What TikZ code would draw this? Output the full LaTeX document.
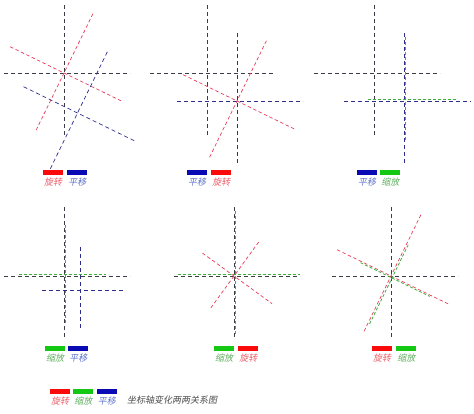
\documentclass[tikz,border=0pt]{standalone}
\usepackage{fontspec}
\newfontfamily\cjk[FakeSlant=0.2]{Noto Sans CJK SC}
\usetikzlibrary{positioning}
\definecolor{axisgray}{RGB}{60,60,70}
\definecolor{rotred}{RGB}{230,60,90}
\definecolor{movblue}{RGB}{45,45,140}
\definecolor{sclgreen}{RGB}{60,175,60}
\definecolor{barred}{RGB}{250,10,10}
\definecolor{barblue}{RGB}{10,10,180}
\definecolor{bargreen}{RGB}{20,200,20}
\definecolor{rotlabel}{RGB}{235,95,105}
\definecolor{movlabel}{RGB}{95,115,205}
\definecolor{scllabel}{RGB}{95,175,95}

\begin{document}
\begin{tikzpicture}[x=1pt, y=-1pt,
            axis base/.style={draw=axisgray, line width=0.7pt, dash pattern=on 4pt off 3pt},
            axis rot/.style={draw=rotred, line width=0.7pt, dash pattern=on 3.5pt off 2.5pt},
            axis mov/.style={draw=movblue, line width=0.7pt, dash pattern=on 4pt off 3pt},
            axis scl/.style={draw=sclgreen, line width=0.8pt, dash pattern=on 3pt off 2pt},
            legend bar/.style={minimum width=20pt, minimum height=5pt, inner sep=0pt},
            legend text/.style={font=\cjk\fontsize{9}{9}\selectfont, inner sep=0pt}]
            \useasboundingbox (0,0) rectangle (474,413);

            \coordinate (O1) at (64,73);
            \coordinate (T1) at (77.5,113);
            \coordinate (O2) at (207,73);
            \coordinate (T2) at (237,101);
            \coordinate (O3) at (374,73);
            \coordinate (T3) at (404,101);
            \coordinate (S3) at (405.5,99.5);
            \coordinate (O4) at (64,276);
            \coordinate (S4) at (65.5,274.5);
            \coordinate (T4) at (80,290);
            \coordinate (O5) at (234,276);
            \coordinate (S5) at (235.5,274.5);
            \coordinate (O6) at (391,276);
            \coordinate (S6) at (392,278);

            % base axes
            \draw[axis base] ([xshift=-60pt] O1) -- ([xshift=66pt] O1);
            \draw[axis base] ([yshift=68pt] O1) -- ([yshift=-64pt] O1);
            \draw[axis base] ([xshift=-57pt] O2) -- ([xshift=68pt] O2);
            \draw[axis base] ([yshift=68pt] O2) -- ([yshift=-64pt] O2);
            \draw[axis base] ([xshift=-60pt] O3) -- ([xshift=66pt] O3);
            \draw[axis base] ([yshift=68pt] O3) -- ([yshift=-64pt] O3);
            \draw[axis base] ([xshift=-60pt] O4) -- ([xshift=66pt] O4);
            \draw[axis base] ([yshift=69pt] O4) -- ([yshift=-62pt] O4);
            \draw[axis base] ([xshift=-60pt] O5) -- ([xshift=66pt] O5);
            \draw[axis base] ([yshift=69pt] O5) -- ([yshift=-62pt] O5);
            \draw[axis base] ([xshift=-59pt] O6) -- ([xshift=67pt] O6);
            \draw[axis base] ([yshift=69pt] O6) -- ([yshift=-62pt] O6);

            % rotate + translate
            \draw[axis rot] ([shift={(154:60pt)}] O1) -- ([shift={(-26:66pt)}] O1);
            \draw[axis rot] ([shift={(64:66pt)}] O1) -- ([shift={(244:64pt)}] O1);
            \draw[axis mov] ([shift={(154:60pt)}] T1) -- ([shift={(-26:66pt)}] T1);
            \draw[axis mov] ([shift={(64:68pt)}] T1) -- ([shift={(244:63pt)}] T1);

            % translate + rotate
            \draw[axis mov] ([xshift=-60pt] T2) -- ([xshift=66pt] T2);
            \draw[axis mov] ([yshift=68pt] T2) -- ([yshift=-64pt] T2);
            \draw[axis rot] ([shift={(154:60pt)}] T2) -- ([shift={(-26:66pt)}] T2);
            \draw[axis rot] ([shift={(64:67pt)}] T2) -- ([shift={(244:64pt)}] T2);

            % translate + scale
            \draw[axis mov] ([xshift=-60pt] T3) -- ([xshift=67pt] T3);
            \draw[axis mov] ([yshift=68pt] T3) -- ([yshift=-64pt] T3);
            \draw[axis scl] ([xshift=-38pt] S3) -- ([xshift=50pt] S3);
            \draw[axis scl] ([yshift=63pt] S3) -- ([yshift=-40pt] S3);

            % scale + translate
            \draw[axis scl] ([xshift=-47pt] S4) -- ([xshift=40pt] S4);
            \draw[axis scl] ([yshift=50pt] S4) -- ([yshift=-50pt] S4);
            \draw[axis mov] ([xshift=-38pt] T4) -- ([xshift=45pt] T4);
            \draw[axis mov] ([yshift=43pt] T4) -- ([yshift=-40pt] T4);

            % scale + rotate
            \draw[axis scl] ([xshift=-58pt] S5) -- ([xshift=64pt] S5);
            \draw[axis scl] ([yshift=64pt] S5) -- ([yshift=-60pt] S5);
            \draw[axis rot] ([shift={(144:39pt)}] O5) -- ([shift={(-36:47pt)}] O5);
            \draw[axis rot] ([shift={(54:42pt)}] O5) -- ([shift={(234:40pt)}] O5);

            % rotate + scale
            \draw[axis rot] ([shift={(154:60pt)}] O6) -- ([shift={(-26:66pt)}] O6);
            \draw[axis rot] ([shift={(64:68pt)}] O6) -- ([shift={(244:63pt)}] O6);
            \draw[axis scl] ([shift={(154:35pt)}] S6) -- ([shift={(-26:42pt)}] S6);
            \draw[axis scl] ([shift={(64:37pt)}] S6) -- ([shift={(244:52pt)}] S6);

            % legends
            \node[legend bar, fill=barred] (rotbarA) at (53,172) {};
            \node[legend bar, fill=barblue, right=4pt of rotbarA] (movbarA) {};
            \node[legend text, text=rotlabel, below=3pt of rotbarA] {旋转};
            \node[legend text, text=movlabel, below=3pt of movbarA] {平移};

            \node[legend bar, fill=barblue] (movbarB) at (197,172) {};
            \node[legend bar, fill=barred, right=4pt of movbarB] (rotbarB) {};
            \node[legend text, text=movlabel, below=3pt of movbarB] {平移};
            \node[legend text, text=rotlabel, below=3pt of rotbarB] {旋转};

            \node[legend bar, fill=barblue] (movbarC) at (367,172) {};
            \node[legend bar, fill=bargreen, right=3pt of movbarC] (sclbarC) {};
            \node[legend text, text=movlabel, below=3pt of movbarC] {平移};
            \node[legend text, text=scllabel, below=3pt of sclbarC] {缩放};

            \node[legend bar, fill=bargreen] (sclbarD) at (55,348) {};
            \node[legend bar, fill=barblue, right=3pt of sclbarD] (movbarD) {};
            \node[legend text, text=scllabel, below=3pt of sclbarD] {缩放};
            \node[legend text, text=movlabel, below=3pt of movbarD] {平移};

            \node[legend bar, fill=bargreen] (sclbarE) at (224,348) {};
            \node[legend bar, fill=barred, right=4pt of sclbarE] (rotbarE) {};
            \node[legend text, text=scllabel, below=3pt of sclbarE] {缩放};
            \node[legend text, text=rotlabel, below=3pt of rotbarE] {旋转};

            \node[legend bar, fill=barred] (rotbarF) at (382,348) {};
            \node[legend bar, fill=bargreen, right=4pt of rotbarF] (sclbarF) {};
            \node[legend text, text=rotlabel, below=3pt of rotbarF] {旋转};
            \node[legend text, text=scllabel, below=3pt of sclbarF] {缩放};

            \node[legend bar, fill=barred] (rotbarG) at (60,391) {};
            \node[legend bar, fill=bargreen, right=3pt of rotbarG] (sclbarG) {};
            \node[legend bar, fill=barblue, right=3pt of sclbarG] (movbarG) {};
            \node[legend text, text=rotlabel, below=3pt of rotbarG] {旋转};
            \node[legend text, text=scllabel, below=3pt of sclbarG] {缩放};
            \node[legend text, text=movlabel, below=3pt of movbarG] (movtextG) {平移};
            \node[legend text, text=black!70, anchor=west] (caption) at (127,400) {坐标轴变化两两关系图};
        \end{tikzpicture}
\end{document}
